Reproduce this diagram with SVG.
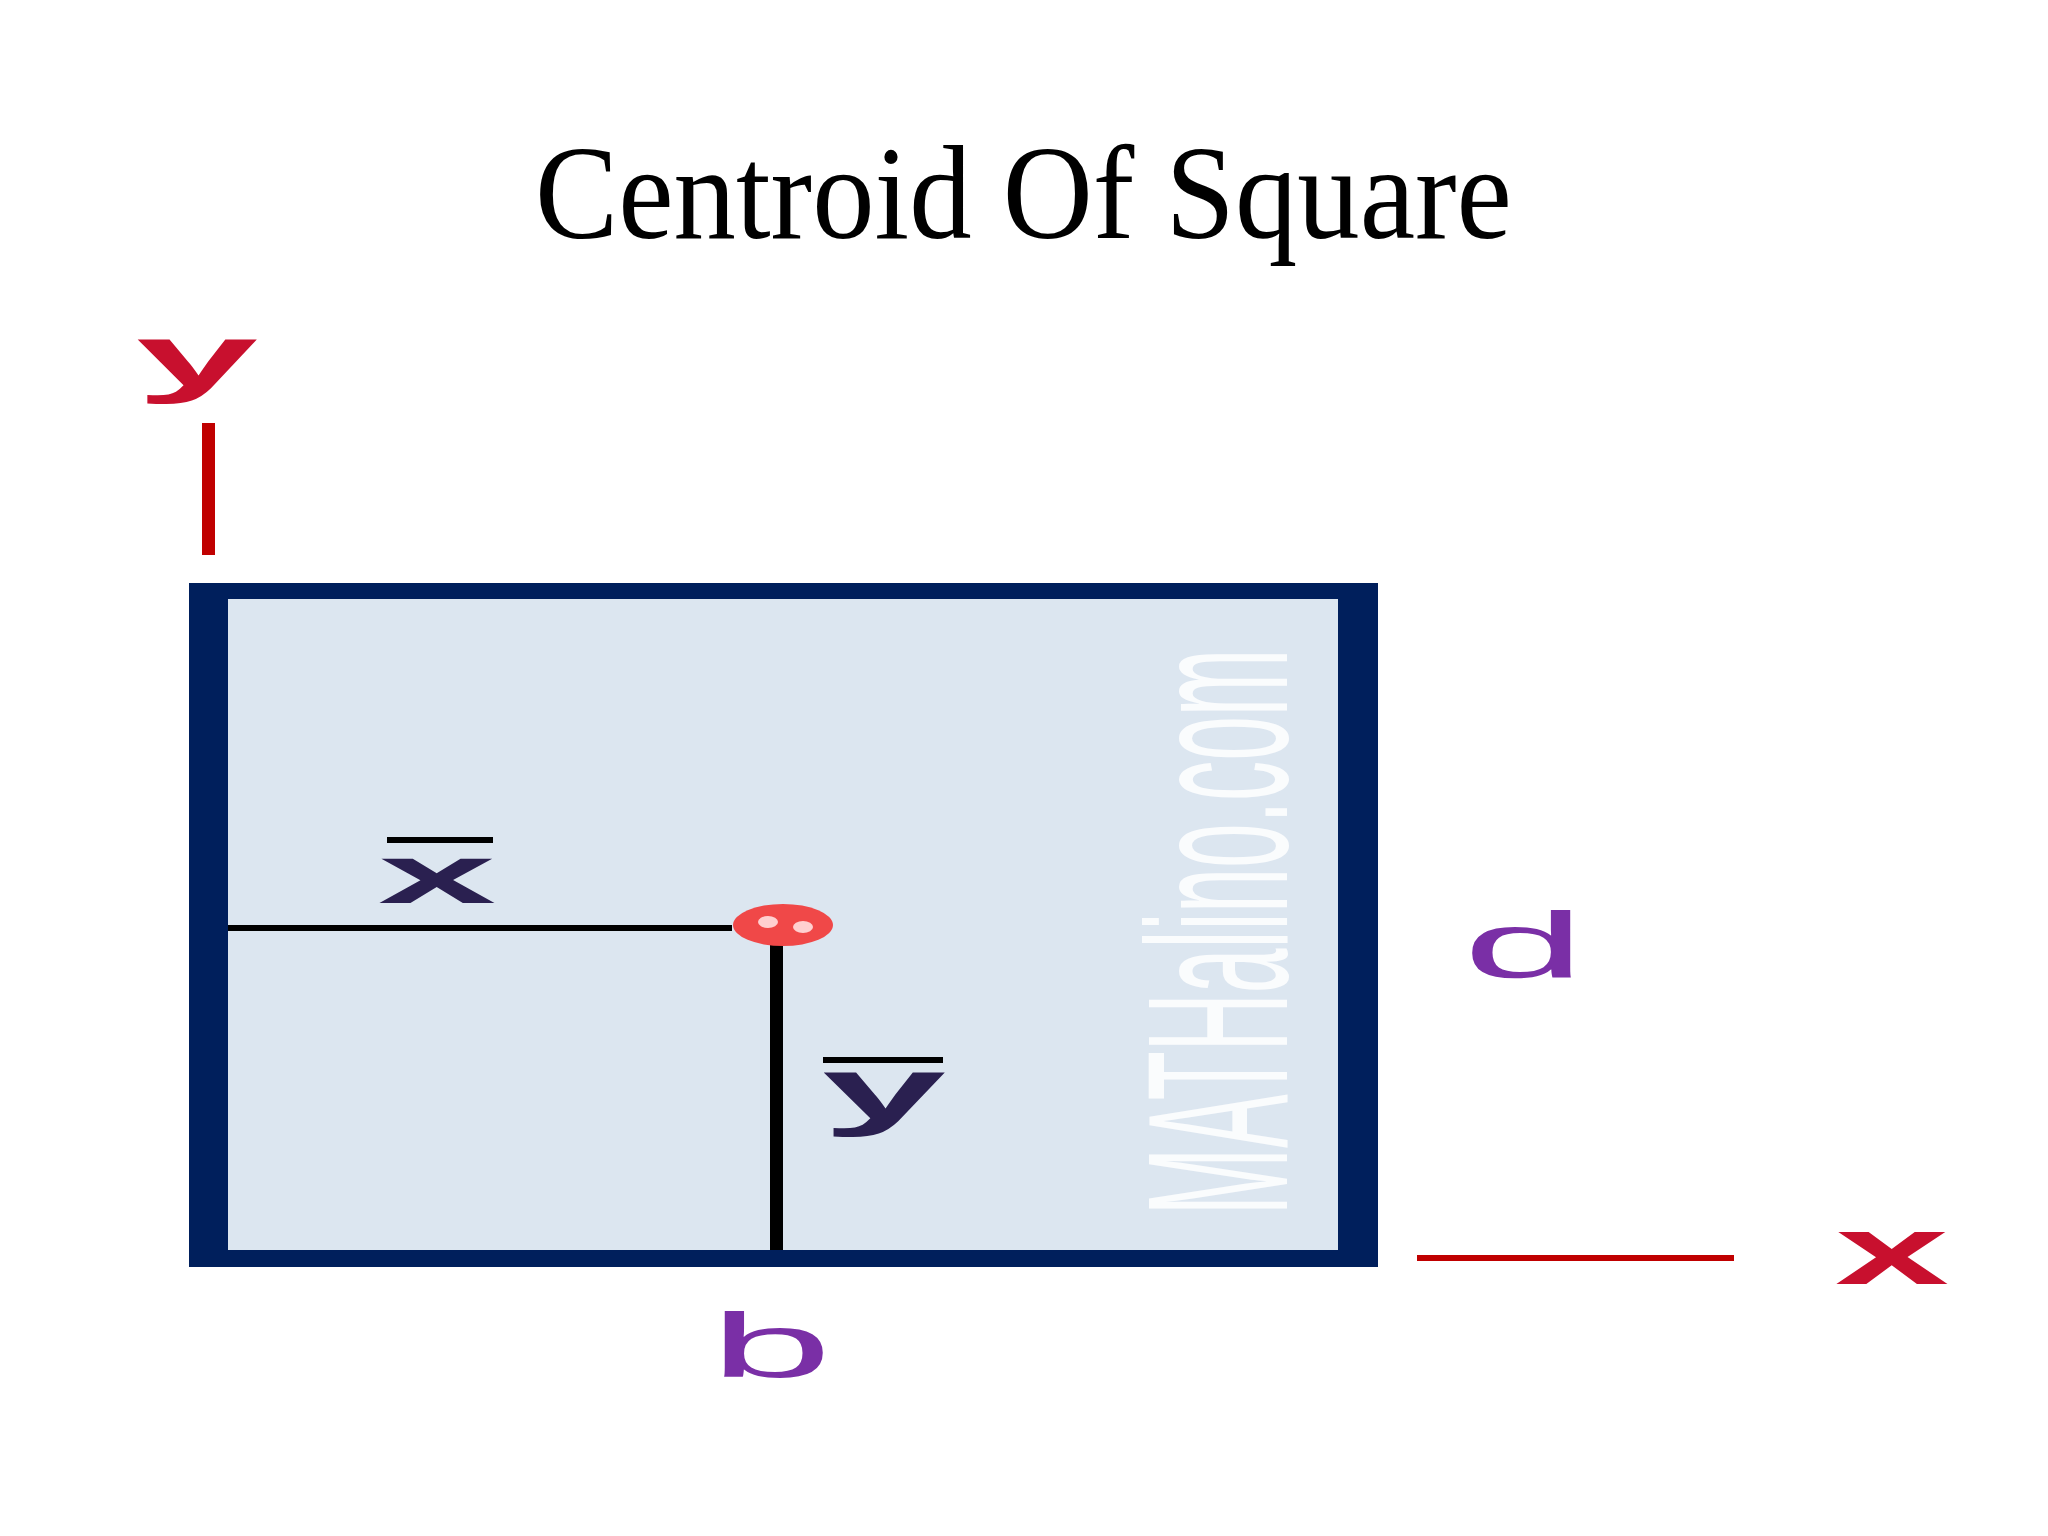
<svg xmlns="http://www.w3.org/2000/svg" width="2048" height="1536" viewBox="0 0 2048 1536">
<style>
.title{font-family:"Liberation Serif","Times New Roman",serif;font-size:134px;fill:#000}
.lbl{font-family:"Liberation Sans",Arial,sans-serif}
.axis{fill:#c8102e}
.dim{fill:#7a2fa6}
.bar{fill:#2a2050}
.wm{font-family:"Liberation Sans",Arial,sans-serif;fill:#ffffff;fill-opacity:0.85}
</style>
<rect width="2048" height="1536" fill="#ffffff"/>
<g id="title">
<text class="title" x="535" y="238" textLength="977" lengthAdjust="spacingAndGlyphs">Centroid Of Square</text>
</g>
<g id="square">
<rect x="189" y="583" width="1189" height="684" fill="#001f5c"/>
<rect x="228" y="599" width="1110" height="651" fill="#dce6f0"/>
<text class="wm" font-size="200" transform="translate(1287,1215) rotate(-90)" textLength="566" lengthAdjust="spacingAndGlyphs">MATHalino.com</text>
</g>
<g id="connectors">
<rect x="202" y="423" width="13" height="132" fill="#c00000"/>
<rect x="1417" y="1255" width="317" height="6" fill="#c00000"/>
<rect x="228" y="925" width="504" height="6" fill="#000"/>
<rect x="770" y="945" width="13" height="305" fill="#000"/>
</g>
<g id="centroid">
<ellipse cx="783" cy="925" rx="50" ry="21" fill="#f04848"/>
<ellipse cx="768" cy="922" rx="10" ry="6" fill="#ffd0d0"/>
<ellipse cx="803" cy="927" rx="10" ry="6" fill="#ffd0d0"/>
</g>
<g id="label-y-axis">
<text class="lbl axis" x="136" y="386" font-size="88" textLength="122" lengthAdjust="spacingAndGlyphs" font-weight="600">y</text>
</g>
<g id="label-x-axis">
<text class="lbl axis" x="1835" y="1284" font-size="98" textLength="114" lengthAdjust="spacingAndGlyphs" font-weight="600">x</text>
</g>
<g id="label-xbar">
<rect x="387" y="837" width="106" height="6" fill="#000"/>
<text class="lbl bar" x="378" y="903" font-size="84" textLength="118" lengthAdjust="spacingAndGlyphs" font-weight="600">x</text>
</g>
<g id="label-ybar">
<rect x="823" y="1057" width="120" height="6" fill="#000"/>
<text class="lbl bar" x="822" y="1119" font-size="88" textLength="124" lengthAdjust="spacingAndGlyphs" font-weight="600">y</text>
</g>
<g id="label-b">
<text class="lbl dim" x="710" y="1377" font-size="90" textLength="122" lengthAdjust="spacingAndGlyphs">b</text>
</g>
<g id="label-d">
<text class="lbl dim" x="1463" y="977" font-size="92" textLength="122" lengthAdjust="spacingAndGlyphs">d</text>
</g>
</svg>
